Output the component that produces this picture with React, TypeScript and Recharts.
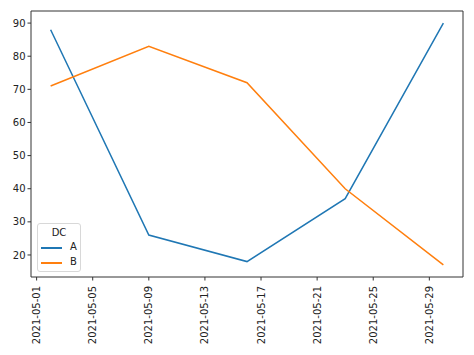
//
// DC別 折れ線グラフ
//
import { Line, LineChart, ReferenceArea, XAxis, YAxis } from 'recharts';

const dates = ['2021-05-02', '2021-05-09', '2021-05-16', '2021-05-23', '2021-05-30'];
const seriesA = [88, 26, 18, 37, 90];
const seriesB = [71, 83, 72, 40, 17];
const xTickLabels = [
  '2021-05-01', '2021-05-05', '2021-05-09', '2021-05-13',
  '2021-05-17', '2021-05-21', '2021-05-25', '2021-05-29',
];
const yTicks = [20, 30, 40, 50, 60, 70, 80, 90];

const toTime = (s: string) => Date.parse(s + 'T00:00:00Z');

const data = dates.map((d, i) => ({ t: toTime(d), A: seriesA[i], B: seriesB[i] }));
const xTicks = xTickLabels.map(toTime);

const fmtDate = (v: number) => new Date(v).toISOString().slice(0, 10);

const font = 'DejaVu Sans, sans-serif';
const axisColor = '#333';

// 縦書き(90度回転)の日付ラベル
const DateTick = (props: any) => {
  const { x, y, payload } = props;
  return (
    <text
      x={0}
      y={0}
      transform={`translate(${x + 3.5},${y + 3.5}) rotate(-90)`}
      textAnchor="end"
      fontSize={10}
      fontFamily={font}
      fill="#222"
    >
      {fmtDate(payload.value)}
    </text>
  );
};

function App() {
  const tMin = toTime(dates[0]);
  const tMax = toTime(dates[dates.length - 1]);
  const pad = (tMax - tMin) * 0.05;
  const yPad = (90 - 17) * 0.05;
  const xDom = [tMin - pad, tMax + pad];
  const yDom = [17 - yPad, 90 + yPad];

  return (
    <div style={{ position: 'absolute', left: 0, top: 0, width: 474, height: 355, background: '#fff' }}>
      <LineChart
        width={474}
        height={355}
        data={data}
        margin={{ top: 11, right: 11, left: 0, bottom: 0 }}
      >
        <XAxis
          dataKey="t"
          type="number"
          scale="linear"
          domain={xDom}
          ticks={xTicks}
          tick={<DateTick />}
          tickSize={3.5}
          height={78}
          stroke={axisColor}
          axisLine={false}
          interval={0}
          allowDataOverflow
        />
        <YAxis
          domain={yDom}
          ticks={yTicks}
          tickSize={3.5}
          width={31}
          stroke={axisColor}
          axisLine={false}
          interval={0}
          allowDataOverflow
          tick={{ fontSize: 10, fontFamily: font, fill: '#222' }}
        />
        {/* 枠線 */}
        <ReferenceArea
          x1={xDom[0]}
          x2={xDom[1]}
          y1={yDom[0]}
          y2={yDom[1]}
          fill="none"
          stroke={axisColor}
          strokeWidth={1}
          fillOpacity={0}
        />
        <Line dataKey="A" stroke="#1f77b4" strokeWidth={1.5} dot={false} isAnimationActive={false} />
        <Line dataKey="B" stroke="#ff7f0e" strokeWidth={1.5} dot={false} isAnimationActive={false} />
      </LineChart>
      {/* 凡例 */}
      <div
        style={{
          position: 'absolute', left: 37, top: 223, width: 44, height: 49,
          border: '1px solid #d8d8d8', borderRadius: 3, background: 'rgba(255,255,255,0.8)',
          fontFamily: font, fontSize: 10, color: '#222', boxSizing: 'border-box',
        }}
      >
        <div style={{ position: 'absolute', left: 0, width: 42, top: 3, textAlign: 'center' }}>DC</div>
        <div style={{ position: 'absolute', left: 3, top: 23, width: 21, height: 1.5, background: '#1f77b4' }} />
        <div style={{ position: 'absolute', left: 32, top: 17 }}>A</div>
        <div style={{ position: 'absolute', left: 3, top: 38, width: 21, height: 1.5, background: '#ff7f0e' }} />
        <div style={{ position: 'absolute', left: 32, top: 32 }}>B</div>
      </div>
    </div>
  );
}

export default App;
